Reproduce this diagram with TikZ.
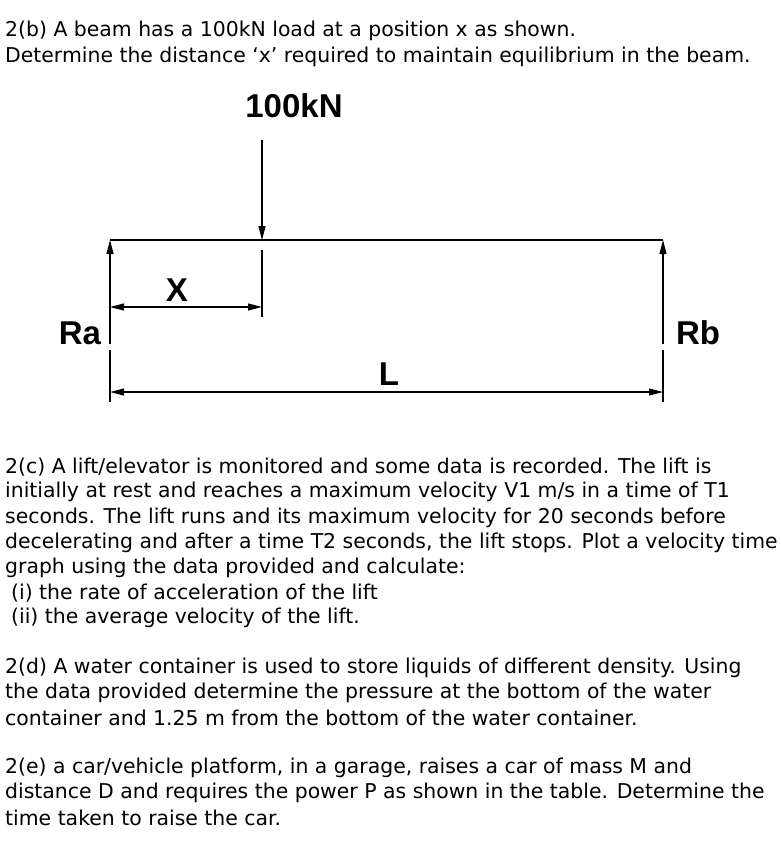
\documentclass[tikz,border=0pt]{standalone}
\usepackage{fontspec}
\setmainfont{DejaVu Sans}
\newfontfamily\lab{Liberation Sans}
\usetikzlibrary{arrows.meta}
\begin{document}
\begin{tikzpicture}[x=1pt,y=-1pt,
  txt/.style={anchor=west,inner sep=0pt,font=\fontsize{20.4}{22}\selectfont},
  lbl/.style={inner sep=0pt,font=\lab\bfseries\fontsize{33}{36}\selectfont},
  ln/.style={line width=1.2pt},
  arr/.style={ln,-{Triangle[length=14pt,width=7pt]}},
  dim/.style={ln,{Triangle[length=14pt,width=7pt]}-{Triangle[length=14pt,width=7pt]}}]
\useasboundingbox (0,0) rectangle (781,867);
\clip (0,0) rectangle (781,867);
\fill[white] (0,0) rectangle (781,867);
\node[txt] (t1) at (5,31) {2(b) A beam has a 100kN load at a position x as shown.};
\node[txt] (t2) at (5,57) {Determine the distance ‘x’ required to maintain equilibrium in the beam.};
% beam
\coordinate (A) at (110,240);
\coordinate (B) at (663,240);
\coordinate (P) at (262,240);
\coordinate (Ptop) at (262,140);
\coordinate (Abot) at (110,344);
\coordinate (Bbot) at (663,344);
\draw[ln] (A) -- (B);
\draw[arr] (Ptop) -- (P);
\draw[arr] (Abot) -- (A);
\draw[arr] (Bbot) -- (B);
\node[lbl] (load) at (294,106) {100kN};
\node[lbl] (ra) at (80,333) {Ra};
\node[lbl] (rb) at (698,333) {Rb};
% x dimension
\coordinate (xt1) at (262,250);
\coordinate (xt2) at (262,317);
\draw[ln] (xt1) -- (xt2);
\coordinate (x1) at (110,307);
\coordinate (x2) at (262,307);
\draw[dim] (x1) -- (x2);
\node[lbl] (xl) at (177,290) {X};
% L dimension
\coordinate (la1) at (110,350);
\coordinate (la2) at (110,402);
\coordinate (lb1) at (663,350);
\coordinate (lb2) at (663,402);
\draw[ln] (la1) -- (la2);
\draw[ln] (lb1) -- (lb2);
\coordinate (L1) at (110,392);
\coordinate (L2) at (663,392);
\draw[dim] (L1) -- (L2);
\node[lbl] (ll) at (389,374) {L};
% texts
\node[txt] (c1) at (5,467) {2(c) A lift/elevator is monitored and some data is recorded. The lift is};
\node[txt] (c2) at (5,492) {initially at rest and reaches a maximum velocity V1 m/s in a time of T1};
\node[txt] (c3) at (5,518) {seconds. The lift runs and its maximum velocity for 20 seconds before};
\node[txt] (c4) at (5,543) {decelerating and after a time T2 seconds, the lift stops. Plot a velocity time};
\node[txt] (c5) at (5,568) {graph using the data provided and calculate:};
\node[txt] (c6) at (11,593) {(i) the rate of acceleration of the lift};
\node[txt] (c7) at (11,618) {(ii) the average velocity of the lift.};
\node[txt] (d1) at (5,668) {2(d) A water container is used to store liquids of different density. Using};
\node[txt] (d2) at (5,693) {the data provided determine the pressure at the bottom of the water};
\node[txt] (d3) at (5,718) {container and 1.25 m from the bottom of the water container.};
\node[txt] (e1) at (5,768) {2(e) a car/vehicle platform, in a garage, raises a car of mass M and};
\node[txt] (e2) at (5,793) {distance D and requires the power P as shown in the table. Determine the};
\node[txt] (e3) at (5,818) {time taken to raise the car.};
\end{tikzpicture}
\end{document}
